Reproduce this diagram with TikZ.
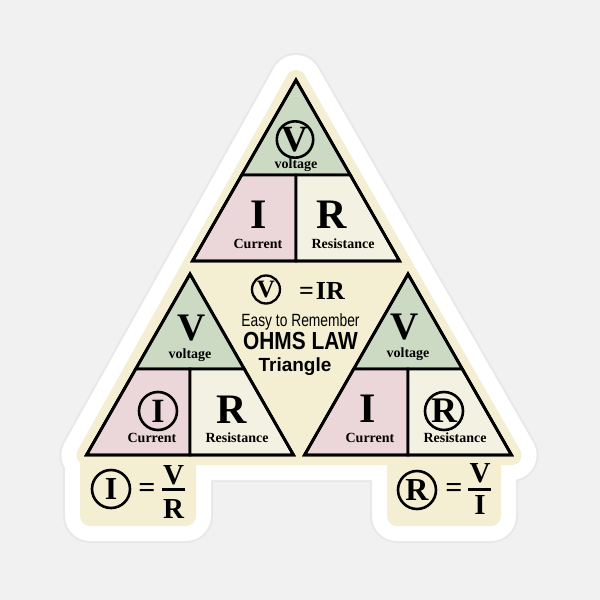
\documentclass[tikz,border=0pt]{standalone}
\usepackage{fontspec}
\usepackage{tikz}
\setmainfont{Liberation Serif}
\newfontfamily\easyfont[FakeStretch=0.78]{Liberation Sans}
\newfontfamily\ohmsfont[FakeStretch=0.845]{Liberation Sans}
\newfontfamily\trifont{Liberation Sans}

\definecolor{paper}{HTML}{F1F1F1}
\definecolor{shade}{HTML}{E8E8E8}
\definecolor{backing}{HTML}{F4EFD3}
\definecolor{voltgreen}{HTML}{CCDAC4}
\definecolor{currpink}{HTML}{EBD6D9}
\definecolor{resicream}{HTML}{F3F2E2}

% one triangle: name prefix, centre x, apex y, baseline of "voltage"
\newcommand{\ohmtri}[4]{%
\filldraw[cell,fill=voltgreen] (#2,#3) -- (#2-54.3,#3+95) -- (#2+54.3,#3+95) -- cycle;
\filldraw[cell,fill=currpink] (#2-54.3,#3+95) -- (#2,#3+95) -- (#2,#3+181) -- (#2-103.5,#3+181) -- cycle;
\filldraw[cell,fill=resicream] (#2,#3+95) -- (#2+54.3,#3+95) -- (#2+103.5,#3+181) -- (#2,#3+181) -- cycle;
\draw[cell] (#2,#3) -- (#2-103.5,#3+181) -- (#2+103.5,#3+181) -- cycle;
\node[lbl] (#1volt) at (#2,#3+#4) {voltage};
\node[lbl] (#1curr) at (#2-38,#3+168) {Current};
\node[lbl] (#1res) at (#2+47,#3+168) {Resistance};
}

\begin{document}
\begin{tikzpicture}[x=1pt,y=-1pt,
  cell/.style={draw=black,line width=2.8,line join=miter},
  lbl/.style={anchor=base,inner sep=0,font=\fontsize{14}{16}\selectfont\bfseries},
  big/.style={inner sep=0,font=\fontsize{42}{44}\selectfont\bfseries},
  bigv/.style={inner sep=0,font=\fontsize{39}{42}\selectfont\bfseries},
  ring/.style={circle,draw=black,line width=2.6,minimum size=38,inner sep=0,font=\fontsize{36}{38}\selectfont\bfseries},
  frac/.style={inner sep=0,font=\fontsize{29}{32}\selectfont\bfseries}]
\fill[paper] (0,0) rectangle (600,600);
\useasboundingbox (0,0) rectangle (600,600);

% sticker backing
\filldraw[fill=shade,draw=shade,line width=54,line join=round] (296,80) -- (511.5,455) -- (491,455) -- (491,516) -- (397,516) -- (397,455) -- (186,455) -- (186,516) -- (90,516) -- (90,455) -- (86.5,455) -- cycle;
\filldraw[fill=white,draw=white,line width=50,line join=round] (296,80) -- (511.5,455) -- (491,455) -- (491,516) -- (397,516) -- (397,455) -- (186,455) -- (186,516) -- (90,516) -- (90,455) -- (86.5,455) -- cycle;
\filldraw[fill=backing,draw=backing,line width=20,line join=round] (296,80) -- (511.5,455) -- (491,455) -- (491,516) -- (397,516) -- (397,455) -- (186,455) -- (186,516) -- (90,516) -- (90,455) -- (86.5,455) -- cycle;

\ohmtri{top}{296}{80}{88.5}
\ohmtri{left}{190}{274}{84}
\ohmtri{right}{408}{274}{83.5}

\node[ring,minimum size=35,font=\fontsize{37}{40}\selectfont\bfseries] (topV) at (295,139.5) {V};
\node[big] (topI) at (259,214.5) {I};
\node[big] (topR) at (332,215) {R};

\node[bigv] (leftV) at (192,328) {V};
\node[ring,font=\fontsize{34}{38}\selectfont\bfseries] (leftI) at (158,411) {I};
\node[big] (leftR) at (232,410) {R};

\node[bigv] (rightV) at (405,327) {V};
\node[big] (rightI) at (368,409) {I};
\node[ring] (rightR) at (444,411) {R};

% middle text
\node[ring,minimum size=28,line width=2.3,font=\fontsize{25}{28}\selectfont\bfseries] (midV) at (266,289.5) {V};
\node[anchor=west,inner sep=0,font=\fontsize{26}{28}\selectfont\bfseries] (midIR) at (299,290.5) {=\kern2pt IR};
\node[anchor=base,inner sep=0,font=\fontsize{17.7}{20}\selectfont\easyfont] (easy) at (300.5,326.7) {Easy to Remember};
\node[anchor=base,inner sep=0,font=\fontsize{24.7}{28}\selectfont\ohmsfont\bfseries] (ohms) at (300.5,349.3) {OHMS LAW};
\node[anchor=base,inner sep=0,font=\fontsize{19}{22}\selectfont\trifont\bfseries] (tri) at (295,371) {Triangle};

% I = V/R
\node[ring,font=\fontsize{32}{36}\selectfont\bfseries] (fI) at (111,489) {I};
\node[frac,font=\fontsize{30}{32}\selectfont\bfseries] (fIeq) at (147,490) {=};
\node[frac] (fIV) at (173.5,475) {V};
\node[frac] (fIR) at (173.5,508.5) {R};
\coordinate (fIbarl) at (162,489);
\coordinate (fIbarr) at (185,489);
\draw[line width=3] (fIbarl) -- (fIbarr);

% R = V/I
\node[ring,font=\fontsize{32}{36}\selectfont\bfseries] (fR) at (417,490) {R};
\node[frac,font=\fontsize{30}{32}\selectfont\bfseries] (fReq) at (454,490) {=};
\node[frac] (fRV) at (480,473) {V};
\node[frac] (fRI) at (480,505) {I};
\coordinate (fRbarl) at (468,489);
\coordinate (fRbarr) at (491,489);
\draw[line width=3] (fRbarl) -- (fRbarr);
\end{tikzpicture}
\end{document}
